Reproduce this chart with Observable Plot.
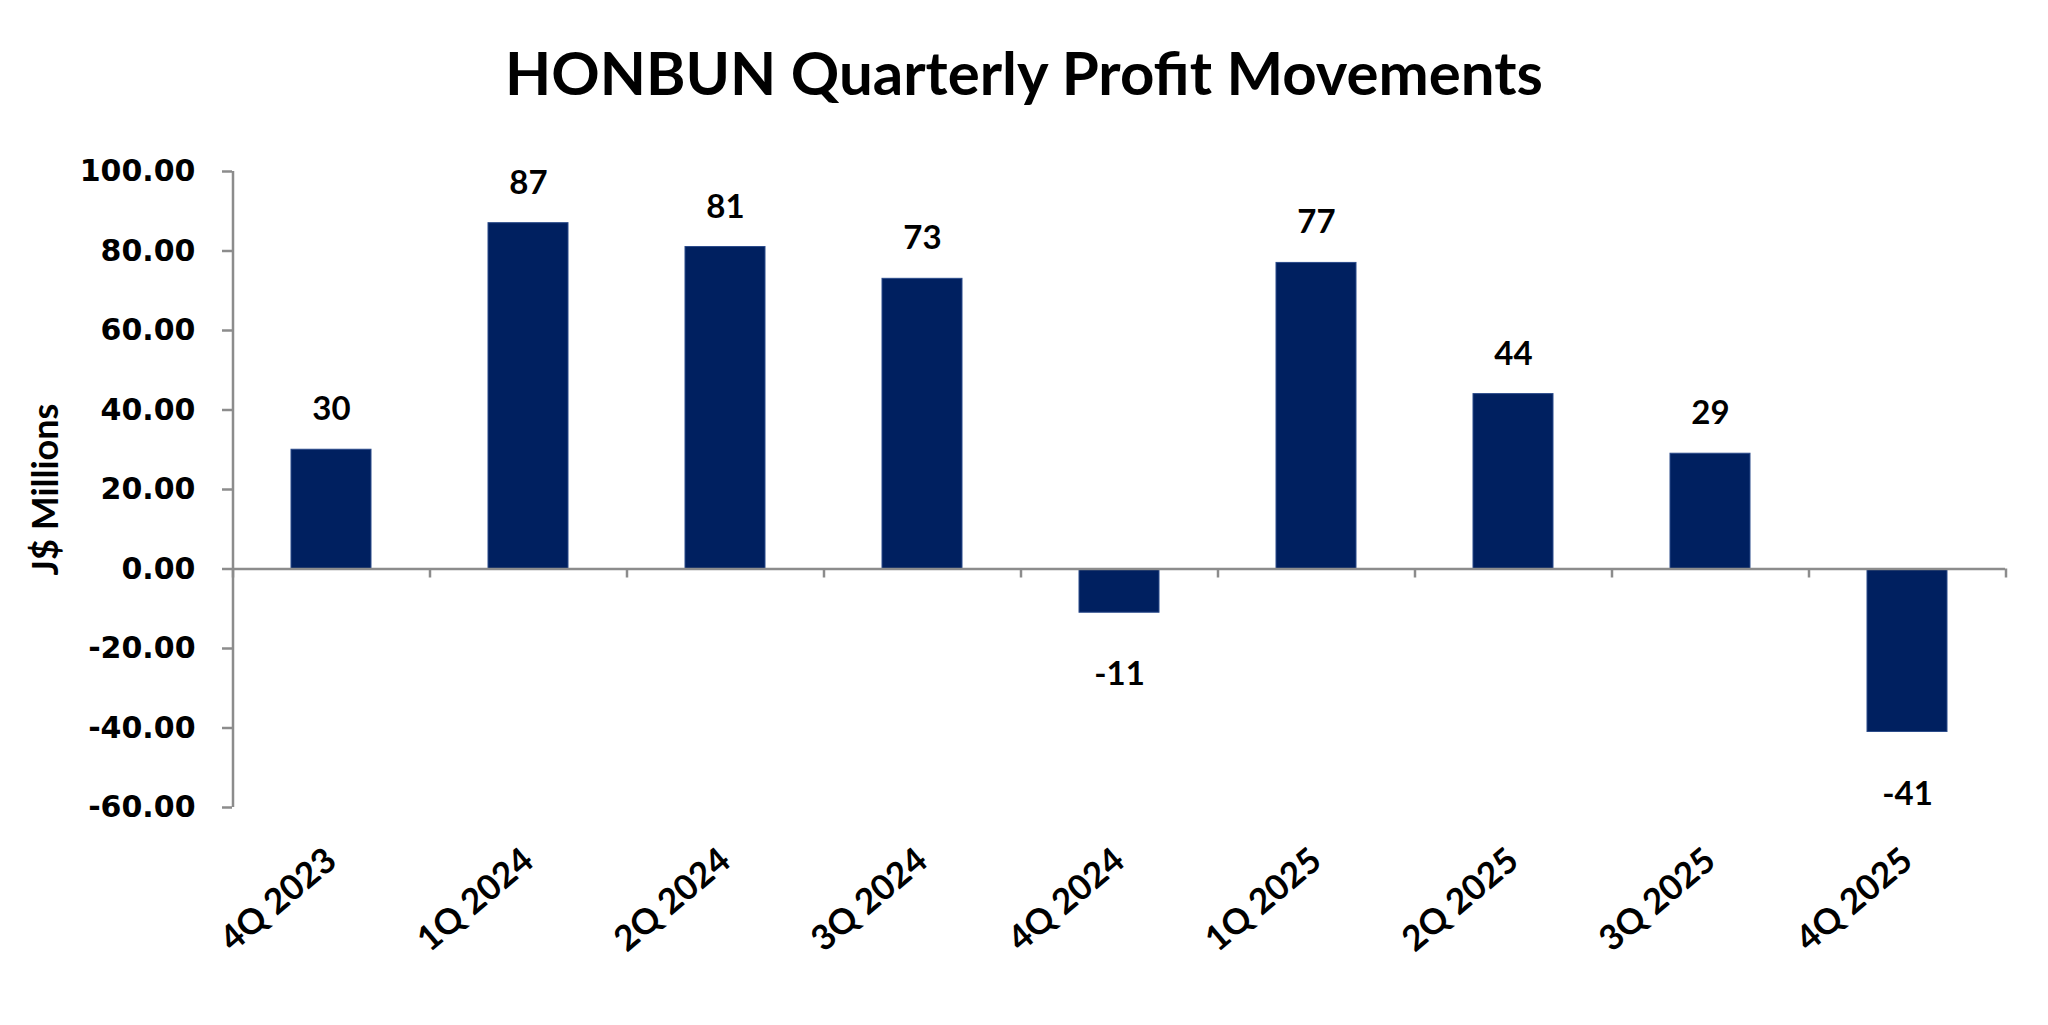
<!DOCTYPE html>
<html>
<head>
<meta charset="utf-8">
<script src="https://cdn.jsdelivr.net/npm/d3@7"></script>
<script src="https://cdn.jsdelivr.net/npm/@observablehq/plot@0.6"></script>
<style>
  html, body { margin: 0; padding: 0; background: #fff; }
  #wrap { width: 2048px; }
  #title { height: 92px; padding-top: 38px; text-align: center; font-family: Lato, "Open Sans", sans-serif; font-weight: 700; font-size: 60px; line-height: 68px; color: #000; }
</style>
</head>
<body>
<div id="wrap">
  <div id="title">HONBUN Quarterly Profit Movements</div>
  <div id="chart"></div>
</div>
<script>
const quarters = ["4Q 2023", "1Q 2024", "2Q 2024", "3Q 2024", "4Q 2024", "1Q 2025", "2Q 2025", "3Q 2025", "4Q 2025"];
const profits = [30, 87, 81, 73, -11, 77, 44, 29, -41];
const yTicks = [-60, -40, -20, 0, 20, 40, 60, 80, 100];
const yLabel = "J$ Millions";

const data = quarters.map((q, i) => ({q, v: profits[i]}));

const W = 2048, H = 895;
const mL = 232, mR = 43, mT = 41, mB = 218;
const step = (W - mL - mR) / quarters.length;
const axisColor = "#8c8c8c";
const labelFont = "Lato, 'Open Sans', sans-serif";

const chart = Plot.plot({
  width: W,
  height: H,
  marginLeft: mL,
  marginRight: mR,
  marginTop: mT,
  marginBottom: mB,
  style: {background: "#fff", color: "#000"},
  x: {domain: quarters, paddingInner: 0.594, paddingOuter: 0.297, axis: null, label: null},
  y: {domain: [-60, 100], axis: null, label: null},
  marks: [
    Plot.barY(data, {x: "q", y: "v", fill: "#002060", stroke: "#2a4a8a", strokeWidth: 1}),
    Plot.ruleY([0], {stroke: axisColor, strokeWidth: 2.5}),
    Plot.ruleX([quarters[0]], {y1: -60, y2: 100, dx: -step / 2, stroke: axisColor, strokeWidth: 2.5}),
    Plot.ruleX(quarters, {x: d => d, y1: 0, y2: 0, dx: step / 2, insetBottom: -9, stroke: axisColor, strokeWidth: 2.5}),
    Plot.ruleX([quarters[0]], {y1: 0, y2: 0, dx: -step / 2, insetBottom: -9, stroke: axisColor, strokeWidth: 2.5}),
    Plot.axisY({
      ticks: yTicks,
      label: null,
      tickSize: 10,
      tickPadding: 27,
      stroke: axisColor,
      strokeWidth: 2.5,
      tickFormat: d => d.toFixed(2),
      fontFamily: "'DejaVu Sans', Verdana, sans-serif",
      fontWeight: 700,
      fontSize: 30,
      fill: "#000"
    }),
    Plot.axisX({
      anchor: "bottom",
      label: null,
      tickSize: 0,
      tickPadding: 48,
      tickRotate: -40,
      fontFamily: labelFont,
      fontWeight: 700,
      fontSize: 35,
      fill: "#000"
    }),
    Plot.text(data.filter(d => d.v >= 0), {x: "q", y: "v", text: d => String(d.v), dy: -40,
      fontFamily: labelFont, fontWeight: 700, fontSize: 33, fill: "#000"}),
    Plot.text(data.filter(d => d.v < 0), {x: "q", y: "v", text: d => String(d.v), dy: 62,
      fontFamily: labelFont, fontWeight: 700, fontSize: 33, fill: "#000"}),
    Plot.text([yLabel], {frameAnchor: "left", textAnchor: "middle", dx: -186, rotate: -90, text: d => d,
      fontFamily: labelFont, fontWeight: 700, fontSize: 36, fill: "#000"})
  ]
});
document.getElementById("chart").appendChild(chart);
</script>
</body>
</html>
